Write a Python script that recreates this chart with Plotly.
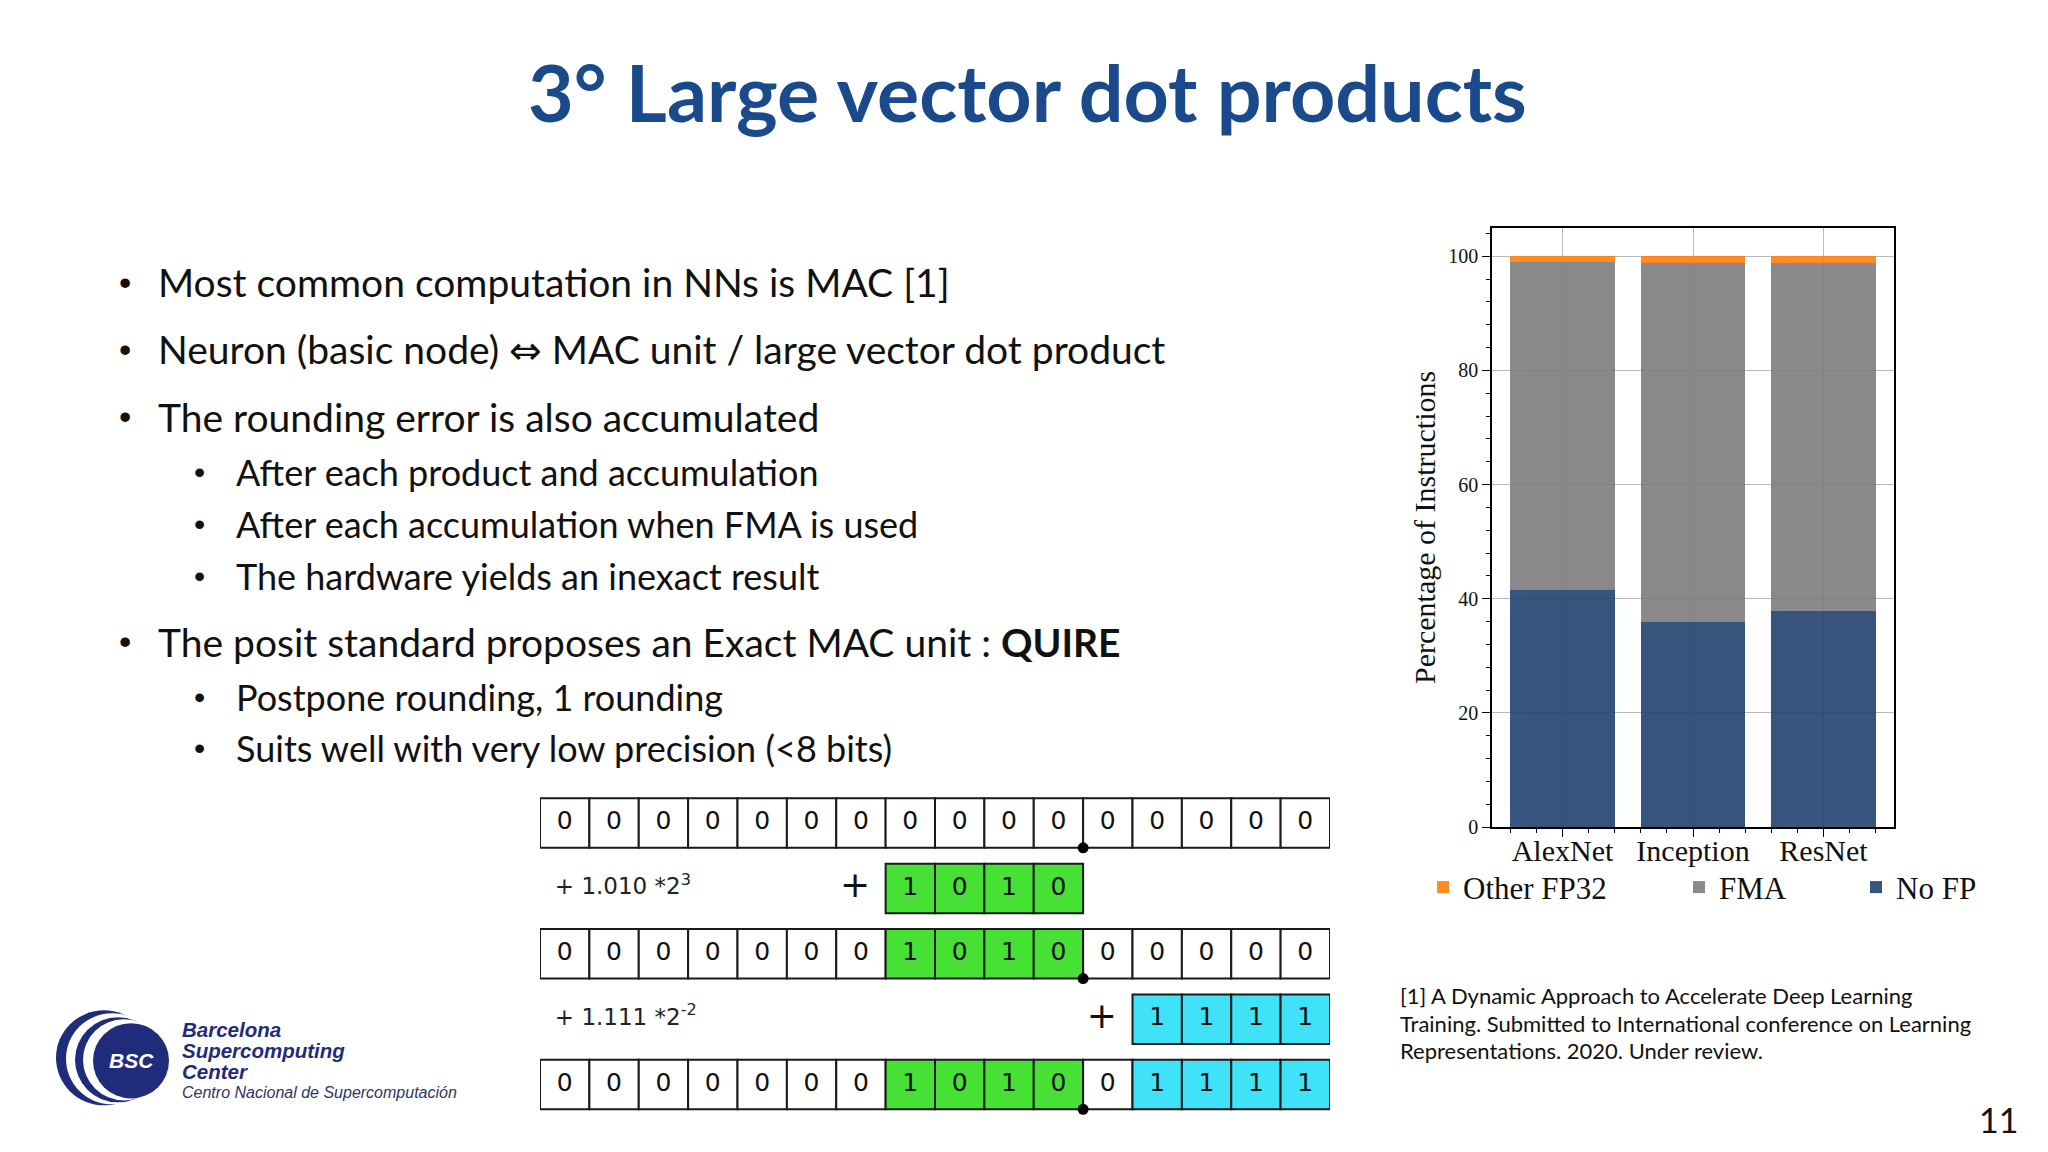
import plotly.graph_objects as go

W, H = 2048, 1152

# ---- chart data ----
models = ["AlexNet", "Inception", "ResNet"]
no_fp = [41.5, 35.9, 37.9]
fma = [57.5, 63.0, 61.0]
other_fp32 = [1.0, 1.1, 1.1]
y_ticks = [0, 20, 40, 60, 80, 100]

# ---- quire diagram data ----
acc_bits = ["0000000000000000", "0000000101000000", "0000000101001111"]
acc_fill = ["wwwwwwwwwwwwwwww", "wwwwwwwggggwwwww", "wwwwwwwggggwcccc"]
add_bits = ["1010", "1111"]
add_offset = [7, 12]
add_fill = ["g", "c"]
add_label = ["+ 1.010 *2<sup>3</sup>", "+ 1.111 *2<sup>-2</sup>"]
radix_pos = 11

ARROW = "<span style='font-family:DejaVu Sans'>\u21d4</span>"
bullets = [
    (0, "Most common computation in NNs is MAC [1]"),
    (0, "Neuron (basic node) " + ARROW + " MAC unit / large vector dot product"),
    (0, "The rounding error is also accumulated"),
    (1, "After each product and accumulation"),
    (1, "After each accumulation when FMA is used"),
    (1, "The hardware yields an inexact result"),
    (0, "The posit standard proposes an Exact MAC unit : <b>QUIRE</b>"),
    (1, "Postpone rounding, 1 rounding"),
    (1, "Suits well with very low precision (<8 bits)"),
]
bullet_y = [285, 353, 421, 477, 529, 582, 648, 704, 755]

footnote = [
    "[1] A Dynamic Approach to Accelerate Deep Learning",
    "Training. Submitted to International conference on Learning",
    "Representations. 2020. Under review.",
]

FILL = {"w": "white", "g": "#47e035", "c": "#40e2f8"}
SERIF = "Liberation Serif"
SANS = "Lato"


def px(x):
    return x / W


def py(y):
    return 1 - y / H


fig = go.Figure()

# stacked bars
series = [
    ("No FP", no_fp, "#214370", "legend3"),
    ("FMA", fma, "#7d7c7e", "legend2"),
    ("Other FP32", other_fp32, "#ff7f0e", "legend"),
]
for name, vals, color, leg in series:
    fig.add_trace(go.Bar(
        x=list(range(len(models))), y=vals, name=name, width=0.8,
        marker=dict(color=color, line=dict(width=0)), opacity=0.9,
        legend=leg, xaxis="x", yaxis="y",
    ))

# diagram: cells as shapes on x2/y2, digits as text trace
half = 0.379
shapes = []
txt_x, txt_y, txt_s = [], [], []
for r, (bits, fills) in enumerate(zip(acc_bits, acc_fill)):
    row = -2 * r
    for i, (b, f) in enumerate(zip(bits, fills)):
        shapes.append(dict(type="rect", xref="x2", yref="y2", x0=i, x1=i + 1,
                           y0=row - half, y1=row + half, fillcolor=FILL[f],
                           line=dict(color="#1a1a1a", width=2), layer="below"))
        txt_x.append(i + 0.5)
        txt_y.append(row)
        txt_s.append(b)
for k, (bits, off, f) in enumerate(zip(add_bits, add_offset, add_fill)):
    row = -2 * k - 1
    for j, b in enumerate(bits):
        shapes.append(dict(type="rect", xref="x2", yref="y2", x0=off + j, x1=off + j + 1,
                           y0=row - half, y1=row + half, fillcolor=FILL[f],
                           line=dict(color="#1a1a1a", width=2), layer="below"))
        txt_x.append(off + j + 0.5)
        txt_y.append(row)
        txt_s.append(b)

fig.add_trace(go.Scatter(
    x=txt_x, y=txt_y, text=txt_s, mode="text", showlegend=False,
    textfont=dict(family="DejaVu Sans", size=25, color="#111111"),
    xaxis="x2", yaxis="y2", hoverinfo="skip", cliponaxis=False,
))
# plus signs before each addend
fig.add_trace(go.Scatter(
    x=[o - 0.62 for o in add_offset], y=[-2 * k - 1 for k in range(len(add_bits))],
    text=["+"] * len(add_bits), mode="text", showlegend=False,
    textfont=dict(family="DejaVu Sans", size=36, color="#111111"),
    xaxis="x2", yaxis="y2", hoverinfo="skip", cliponaxis=False,
))
# addend labels
fig.add_trace(go.Scatter(
    x=[0.3] * len(add_label), y=[-2 * k - 1 for k in range(len(add_label))],
    text=add_label, mode="text", textposition="middle right", showlegend=False,
    textfont=dict(family="DejaVu Sans", size=23, color="#222222"),
    xaxis="x2", yaxis="y2", hoverinfo="skip", cliponaxis=False,
))
# radix point dots
fig.add_trace(go.Scatter(
    x=[radix_pos] * len(acc_bits), y=[-2 * r - half for r in range(len(acc_bits))],
    mode="markers", marker=dict(color="black", size=11), showlegend=False,
    xaxis="x2", yaxis="y2", hoverinfo="skip", cliponaxis=False,
))

# logo (decoration)
navy = "#1f2b7b"
dy = 10
for cx, cy, r, col in [(104, 1058, 48, navy), (112, 1059, 46, "white"),
                       (118, 1060, 43, navy), (124, 1060, 41, "white"),
                       (131, 1061, 38, navy)]:
    cy += dy
    shapes.append(dict(type="circle", xref="paper", yref="paper",
                       x0=px(cx - r), x1=px(cx + r), y0=py(cy + r), y1=py(cy - r),
                       fillcolor=col, line=dict(width=0)))

ann = []
ann.append(dict(x=px(1027), y=py(92), text="<b>3° Large vector dot products</b>",
                font=dict(family=SANS, size=79, color="#1a4a8c")))
for (lvl, t), yy in zip(bullets, bullet_y):
    bx, tx = (117, 156) if lvl == 0 else (192, 234)
    size = 39 if lvl == 0 else 36
    ann.append(dict(x=px(bx), y=py(yy), text="\u2022", xanchor="left",
                    font=dict(family="Liberation Sans", size=size - 4, color="#111111")))
    ann.append(dict(x=px(tx), y=py(yy), text=t, xanchor="left",
                    font=dict(family=SANS, size=size, color="#111111")))
for t, yy in zip(footnote, [1005, 1033, 1061]):
    ann.append(dict(x=px(1398), y=py(yy), text=t, xanchor="left",
                    font=dict(family=SANS, size=22, color="#111111")))
ann.append(dict(x=px(1998), y=py(1130), text="11",
                font=dict(family=SANS, size=34, color="#111111")))
ann.append(dict(x=px(131), y=py(1061 + dy), text="<b><i>BSC</i></b>",
                font=dict(family="Liberation Sans", size=21, color="white")))
for t, yy in zip(["<b><i>Barcelona</i></b>", "<b><i>Supercomputing</i></b>", "<b><i>Center</i></b>"],
                 [1039, 1061, 1082]):
    ann.append(dict(x=px(180), y=py(yy), text=t, xanchor="left",
                    font=dict(family="Liberation Sans", size=20.5, color=navy)))
ann.append(dict(x=px(180), y=py(1103), text="<i>Centro Nacional de Supercomputación</i>",
                xanchor="left", font=dict(family="Liberation Sans", size=16, color="#2e3566")))
for a in ann:
    a.update(xref="paper", yref="paper", showarrow=False)
    a.setdefault("xanchor", "center")
    a.setdefault("yanchor", "middle")

leg_common = dict(orientation="h", yanchor="middle", xanchor="left", y=py(896),
                  font=dict(family=SERIF, size=31, color="#111111"),
                  bgcolor="rgba(0,0,0,0)", itemwidth=30)

fig.update_layout(
    width=W, height=H, margin=dict(l=0, r=0, t=0, b=0),
    paper_bgcolor="white", plot_bgcolor="white",
    barmode="stack", bargap=0.2,
    shapes=shapes, annotations=ann,
    legend=dict(x=px(1423), **leg_common),
    legend2=dict(x=px(1679), **leg_common),
    legend3=dict(x=px(1856), **leg_common),
    xaxis=dict(
        domain=[px(1492), px(1894)], range=[-0.54, 2.54],
        tickvals=list(range(len(models))), ticktext=models,
        ticks="outside", ticklen=8, tickcolor="black", ticklabelstandoff=-12,
        minor=dict(dtick=0.2, tick0=0, ticks="outside", ticklen=4, tickcolor="black"),
        showgrid=True, gridcolor="#b8b8b8", gridwidth=1, zeroline=False,
        showline=True, mirror=True, linecolor="black", linewidth=1.5,
        tickfont=dict(family=SERIF, size=30, color="#111111"), anchor="y",
    ),
    yaxis=dict(
        domain=[py(835), py(230)], range=[0, 105],
        tickvals=y_ticks, ticks="outside", ticklen=8, tickcolor="black",
        minor=dict(dtick=4, tick0=0, ticks="outside", ticklen=4, tickcolor="black"),
        showgrid=True, gridcolor="#b8b8b8", gridwidth=1, zeroline=False,
        showline=True, mirror=True, linecolor="black", linewidth=1.5,
        tickfont=dict(family=SERIF, size=20, color="#111111"),
        title=dict(text="Percentage of Instructions", standoff=4,
                   font=dict(family=SERIF, size=30, color="#111111")),
        anchor="x",
    ),
    xaxis2=dict(domain=[px(540), px(1330)], range=[0, 16], visible=False,
                anchor="y2", fixedrange=True),
    yaxis2=dict(domain=[py(1128), py(798)], range=[-4.5, 0.5], visible=False,
                anchor="x2", fixedrange=True),
)

fig.write_html("out.html", config={"displayModeBar": False},
               post_script="document.body.style.margin='0';")
